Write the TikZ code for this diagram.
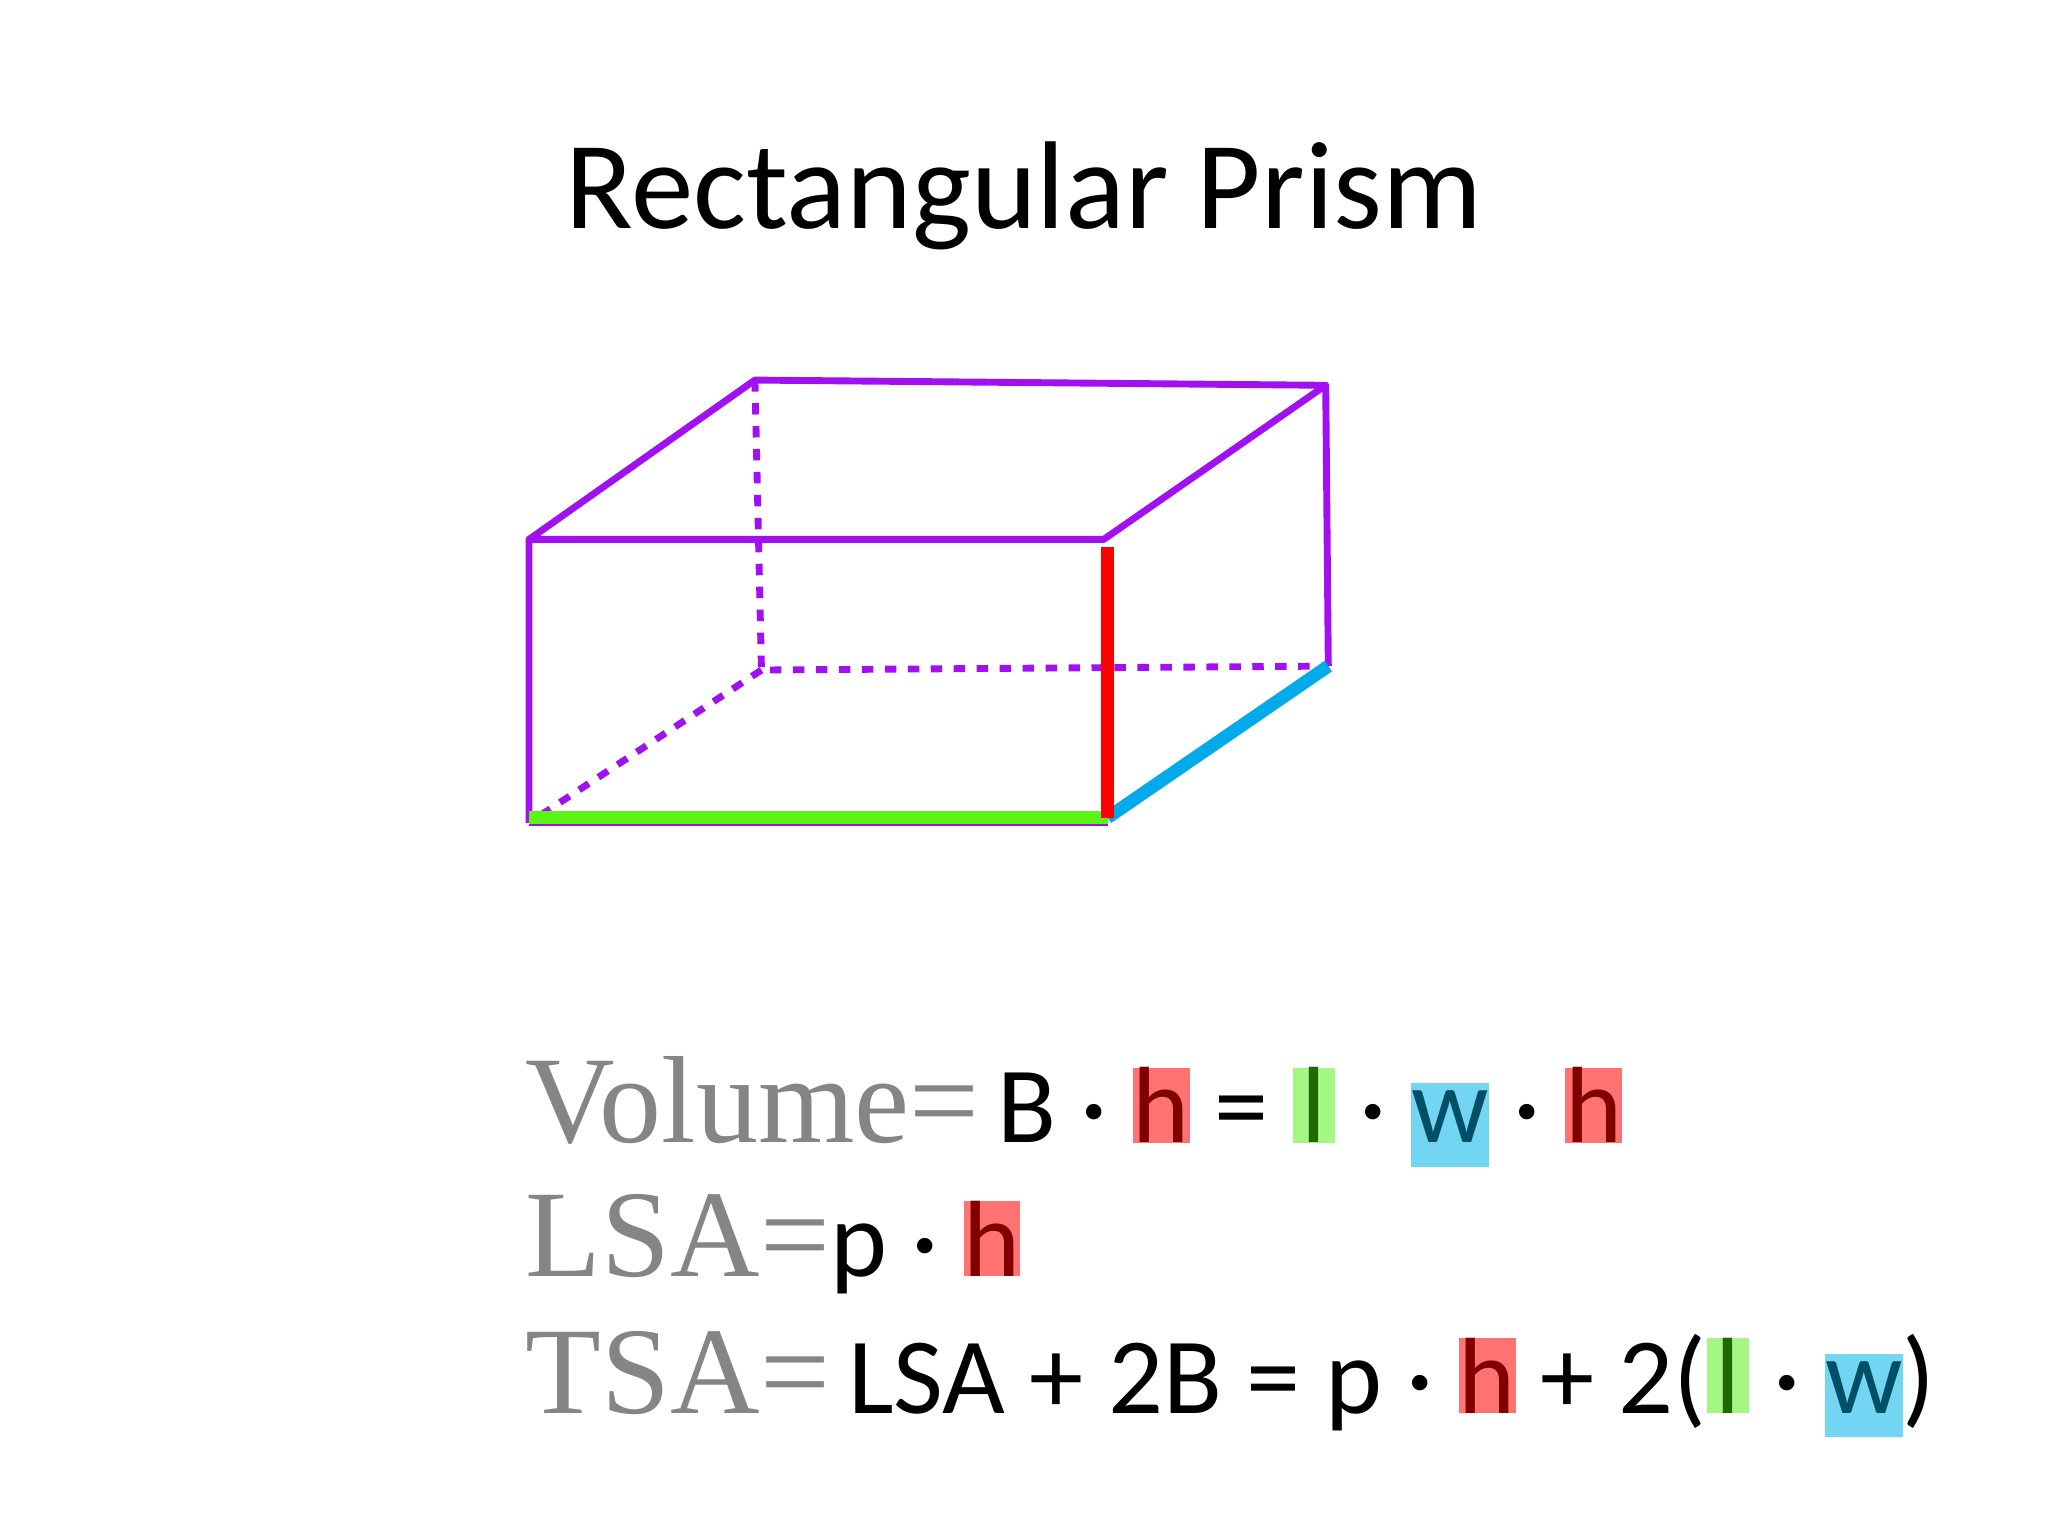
\documentclass[tikz,border=0pt]{standalone}
\usepackage{fontspec}
\setmainfont{Carlito}
\newfontfamily\ser{Liberation Serif}
\definecolor{prp}{HTML}{A010F0}
\definecolor{hr}{HTML}{FF7272}
\definecolor{hg}{HTML}{A4F782}
\definecolor{hb}{HTML}{72D6F2}
\definecolor{gx}{HTML}{858585}
\newcommand{\hh}{{\setlength{\fboxsep}{0pt}\colorbox{hr}{\color[HTML]{800000}h}}}
\newcommand{\hl}{{\setlength{\fboxsep}{0pt}\colorbox{hg}{\kern0.08em\color[HTML]{1E6A00}l\kern0.08em}}}
\newcommand{\hw}{{\setlength{\fboxsep}{0pt}\colorbox{hb}{\color[HTML]{004F66}\raisebox{0pt}[0.55em][0.22em]{w}}}}
\newcommand{\gr}[1]{{\ser\fontsize{27}{30}\selectfont\color{gx}#1}}
\tikzset{edge/.style={prp,line width=1.5pt},
 hid/.style={prp,line width=1.5pt,dash pattern=on 2.5pt off 2.5pt},
 formula/.style={anchor=base west,inner sep=0pt,font=\fontsize{23.6}{28}\selectfont}}
\begin{document}
\begin{tikzpicture}[x=0.01cm,y=-0.01cm]
\useasboundingbox (0,0) rectangle (1568,1176);
\node[font=\fontsize{27.2}{32}\selectfont] (title) at (784,150) {Rectangular Prism};
\coordinate (A) at (405,413); \coordinate (B) at (845,413);
\coordinate (C) at (848,630); \coordinate (D) at (405,630);
\coordinate (E) at (578,291); \coordinate (F) at (1015,295);
\coordinate (G) at (1017,510); \coordinate (H) at (583,513);
\coordinate (R) at (848,419); \coordinate (C2) at (848,626); \coordinate (D2) at (405,626);
\draw[hid] (E) -- (H) -- (G);
\draw[hid] (H) -- (D);
\draw[edge,line join=round] (D) -- (A) -- (B) -- (F) -- (E) -- (A);
\draw[edge] (F) -- (G);
\draw[edge] (D) -- (C);
\draw[line width=2.8pt,color={rgb,255:red,90;green,245;blue,20}] (D2) -- (C2);
\draw[line width=2.8pt,color={rgb,255:red,0;green,170;blue,235}] (C2) -- (G);
\draw[line width=2.8pt,red] (R) -- (C2);
\node[formula] (v) at (402,875) {\gr{Volume=}\,B · \hh{} = \hl{} · \hw{} · \hh};
\node[formula] (l) at (402,977) {\gr{LSA=}p · \hh};
\node[formula] (t) at (402,1082) {\gr{TSA=}\,LSA + 2B = p · \hh{} + 2(\hl{} · \hw)};
\end{tikzpicture}
\end{document}
